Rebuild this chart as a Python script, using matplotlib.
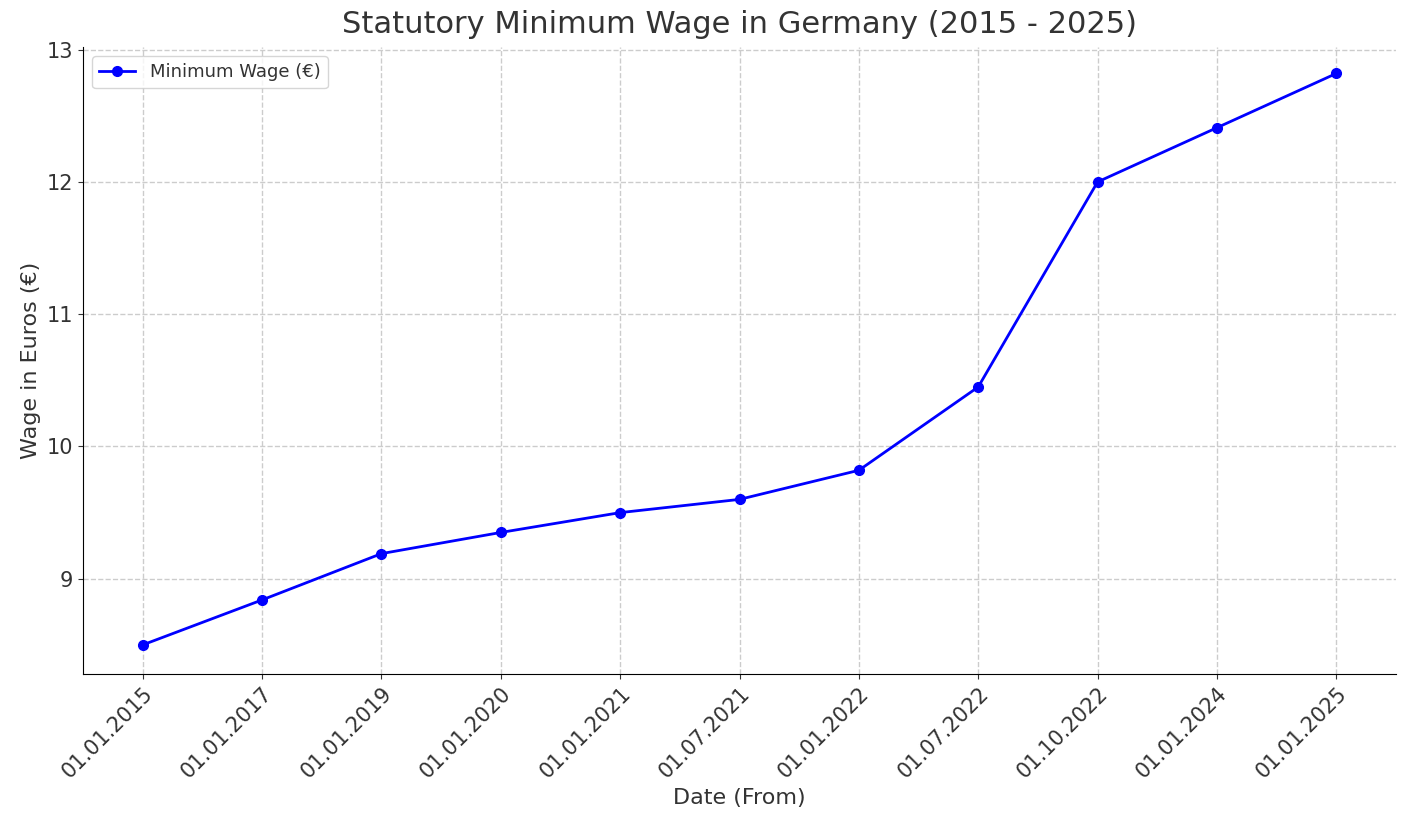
import matplotlib
matplotlib.use("Agg")
import matplotlib.pyplot as plt

dates = ["01.01.2015", "01.01.2017", "01.01.2019", "01.01.2020", "01.01.2021",
         "01.07.2021", "01.01.2022", "01.07.2022", "01.10.2022", "01.01.2024", "01.01.2025"]
wages = [8.50, 8.84, 9.19, 9.35, 9.50, 9.60, 9.82, 10.45, 12.00, 12.41, 12.82]

txt = "#333333"
fig = plt.figure(figsize=(14.09, 8.4), dpi=100)
ax = fig.add_axes([83/1409, 1-674/840, (1396-83)/1409, (674-47)/840])
ax.plot(dates, wages, marker="o", color="blue", linewidth=2, markersize=7, label="Minimum Wage (€)")
ax.set_title("Statutory Minimum Wage in Germany (2015 - 2025)", fontsize=22, color=txt, pad=10)
ax.set_xlabel("Date (From)", fontsize=16, color=txt)
ax.set_ylabel("Wage in Euros (€)", fontsize=16, color=txt)
ax.set_yticks([9, 10, 11, 12, 13])
ax.set_ylim(8.28, 13.02)
ax.set_xlim(-0.5, 10.5)
ax.tick_params(labelsize=15, colors=txt)
plt.setp(ax.get_xticklabels(), rotation=45, ha="right", rotation_mode="anchor")
ax.grid(True, linestyle="--", color="#cccccc", linewidth=1)
for s in ["top", "right"]:
    ax.spines[s].set_visible(False)
leg = ax.legend(loc="upper left", fontsize=13)
for t in leg.get_texts():
    t.set_color(txt)
fig.savefig("out.png", dpi=100)
